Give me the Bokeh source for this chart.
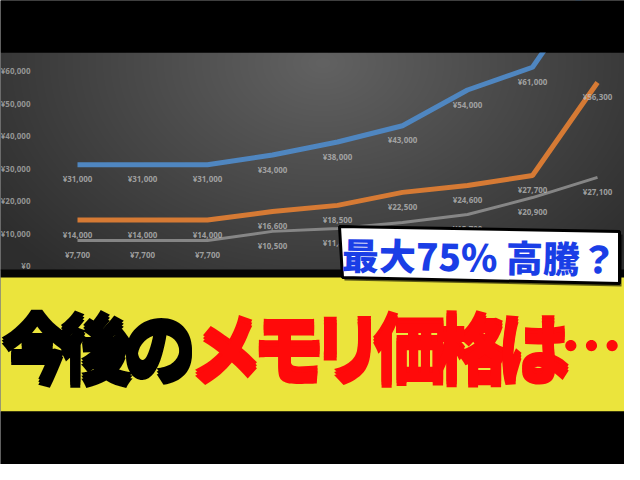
import numpy as np
from bokeh.plotting import figure
from bokeh.models import Range1d
from bokeh.core.properties import value
from bokeh.embed import file_html
from bokeh.resources import INLINE

# ---------------- data ----------------
months = [0, 1, 2, 3, 4, 5, 6, 7, 8]
blue_prices = [31000, 31000, 31000, 34000, 38000, 43000, 54000, 61000, 90000]
orange_prices = [14000, 14000, 14000, 16600, 18500, 22500, 24600, 27700, 56300]
gray_prices = [7700, 7700, 7700, 10500, 11400, 13200, 15700, 20900, 27100]
y_ticks = [0, 10000, 20000, 30000, 40000, 50000, 60000]
y_tick_labels = ["¥0", "¥10,000", "¥20,000", "¥30,000", "¥40,000", "¥50,000", "¥60,000"]
subtitle = "最大75% 高騰？"
title_black = ["今", "後", "の"]
title_red = ["メ", "モ", "リ", "価", "格", "は", "…"]

HEAVY = value("'Noto Sans CJK JP Black', 'Noto Sans CJK JP'")

W, H = 624, 464


def py(ry):
    return 480 - ry


p = figure(width=W, height=H, output_backend="svg", toolbar_location=None,
           x_range=Range1d((8 - 85) / 65, (632 - 85) / 65),
           y_range=Range1d((273 - 472) / 0.00325, (273 - 8) / 0.00325),
           x_axis_location=None, y_axis_location=None,
           min_border=0, outline_line_color=None,
           background_fill_color="#000000", border_fill_color="#000000")
p.grid.visible = False
p.extra_x_ranges = {"px": Range1d(8, 632)}
p.extra_y_ranges = {"px": Range1d(py(472), py(8))}

# chart background gradient
gx0, gx1, gy0, gy1 = 8, 632, 60, 278
xs = np.arange(gx0, gx1)
ys = np.arange(gy0, gy1)
XX, YY = np.meshgrid(xs, ys)
d = np.sqrt(((XX - 330) / 380.0) ** 2 + ((YY - 70) / 270.0) ** 2)
g = np.clip(98 - 50 * d, 45, 100).astype(np.uint32)
img = (255 << 24) | (g << 16) | (g << 8) | g
img = img[::-1].copy()
p.image_rgba(image=[img.view(np.uint32)], x=gx0, y=py(gy1), dw=gx1 - gx0, dh=gy1 - gy0,
             x_range_name="px", y_range_name="px")

# y tick labels
p.text(x=[38] * len(y_ticks), y=y_ticks, text=y_tick_labels, x_range_name="px",
       text_align="right", text_baseline="middle", text_font=value("Noto Sans"),
       text_font_size="8px", text_font_style="bold", text_color="#b4b4b4", text_alpha=0.75)

# series lines
p.line(months, gray_prices, line_color="#8e8e8e", line_width=3, line_alpha=0.9)
p.line(months, orange_prices, line_color="#d67a34", line_width=5)
p.line(months, blue_prices, line_color="#4f86c0", line_width=5)

# data labels (only points inside the chart area)
for vals in (gray_prices, orange_prices, blue_prices):
    vis = [i for i, v in enumerate(vals) if v < 62000]
    p.text(x=[months[i] for i in vis], y=[vals[i] for i in vis],
           text=[f"¥{vals[i]:,}" for i in vis], y_offset=14,
           text_align="center", text_baseline="middle", text_font=value("Noto Sans"),
           text_font_size="8px", text_font_style="bold", text_color="#b8b8b8", text_alpha=0.8)

# bands
p.quad(left=8, right=632, bottom=py(60), top=py(0), fill_color="#000000", line_color=None,
       x_range_name="px", y_range_name="px")
p.quad(left=8, right=632, bottom=py(285), top=py(277), fill_color="#050505", line_color=None,
       x_range_name="px", y_range_name="px")
p.quad(left=8, right=632, bottom=py(419), top=py(285), fill_color="#ebe43c", line_color=None,
       x_range_name="px", y_range_name="px")
p.quad(left=8, right=632, bottom=py(480), top=py(419), fill_color="#000000", line_color=None,
       x_range_name="px", y_range_name="px")

# main title, one character at a time
centers = [45, 104, 167, 233, 296, 355, 417, 479, 541]
chars = title_black + title_red[:-1]
colors = ["#000000"] * len(title_black) + ["#ff0a0a"] * (len(title_red) - 1)
for dy in (-3, 0, 3):
    p.text(x=centers, y=[py(352)] * len(chars), text=chars, y_offset=dy,
           x_range_name="px", y_range_name="px",
           text_align="center", text_baseline="middle",
           text_font=HEAVY, text_font_style="bold",
           text_font_size="74px", text_color=colors)
p.text(x=[599], y=[py(350)], text=[title_red[-1]],
       x_range_name="px", y_range_name="px",
       text_align="center", text_baseline="middle", text_font=HEAVY,
       text_font_style="bold", text_font_size="62px", text_color="#ff0a0a")

# subtitle box
p.patch(x=[350, 630, 629, 352], y=[py(237), py(242), py(294), py(288)], fill_color="#000000",
        line_color=None, x_range_name="px", y_range_name="px", fill_alpha=0.6)
p.patch(x=[347, 627, 627, 350], y=[py(234), py(239), py(291), py(285)], fill_color="#ffffff",
        line_color="#000000", line_width=3, x_range_name="px", y_range_name="px")
p.text(x=[487], y=[py(263)], text=[subtitle], angle=-0.015,
       x_range_name="px", y_range_name="px", text_align="center", text_baseline="middle",
       text_font=HEAVY, text_font_style="bold",
       text_font_size="37px", text_color="#1a3ee6")

open("out.html", "w").write(file_html(p, INLINE))
